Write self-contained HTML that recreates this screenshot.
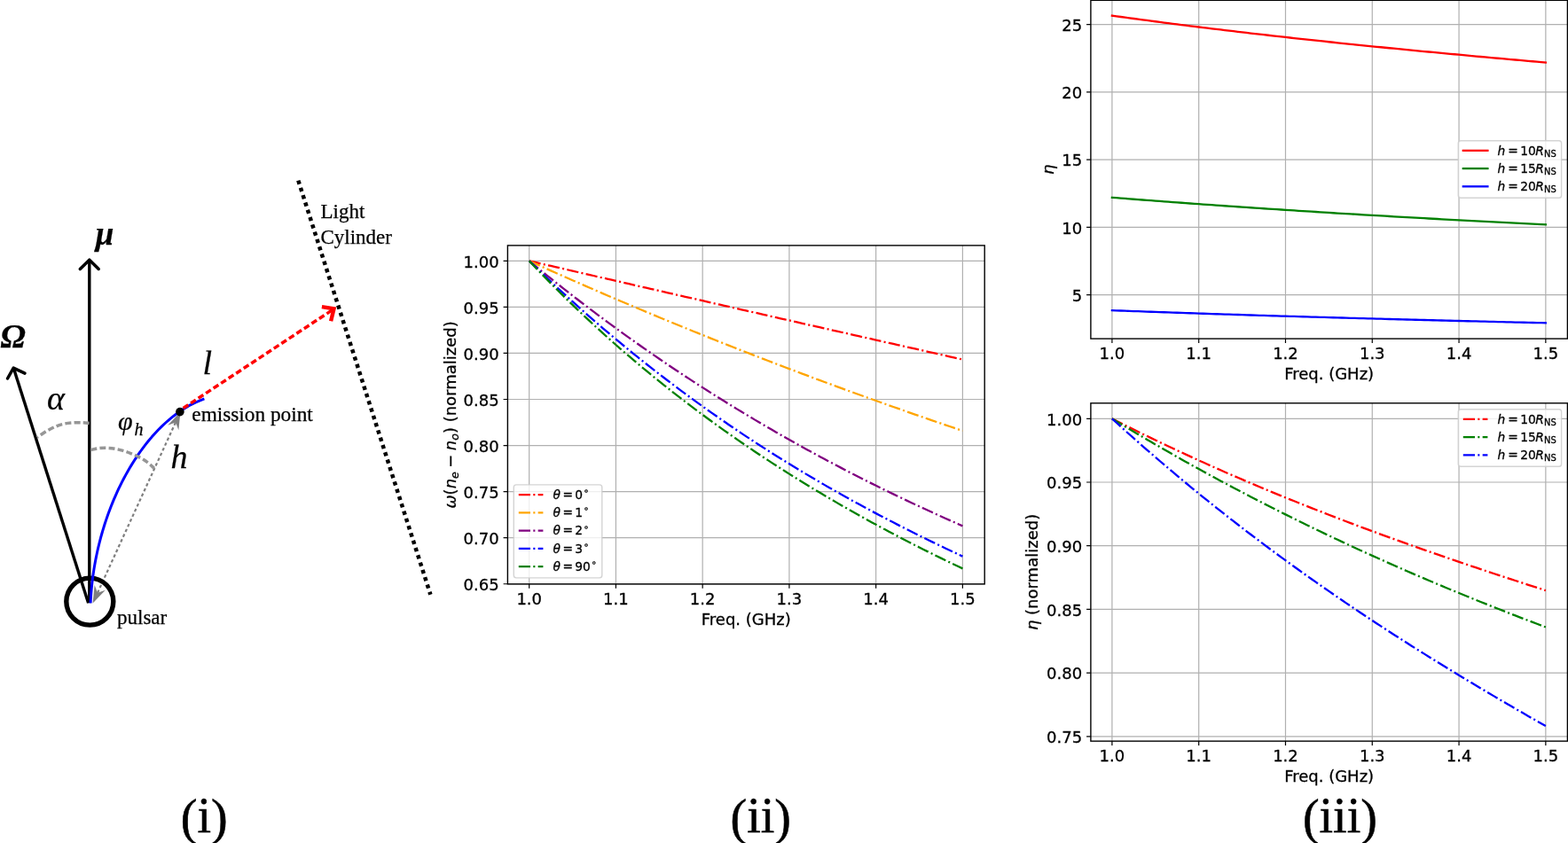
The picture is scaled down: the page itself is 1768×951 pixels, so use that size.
<!DOCTYPE html>
<html lang="en"><head><meta charset="utf-8"><title>Pulsar emission geometry and birefringence plots</title>
<style>
html,body{margin:0;padding:0;background:#fff;}
body{width:1768px;height:951px;overflow:hidden;}
svg{display:block;}
text{white-space:pre;}
</style></head>
<body>
<svg width="1768" height="951" viewBox="0 0 1768 951">
<rect width="1768" height="951" fill="#fff"/>
<clipPath id="c2"><rect x="572.40" y="276.90" width="537.80" height="382.00"/></clipPath>
<path d="M596.70 276.90V658.90M694.44 276.90V658.90M792.18 276.90V658.90M889.92 276.90V658.90M987.66 276.90V658.90M1085.40 276.90V658.90M572.40 658.75H1110.20M572.40 606.69H1110.20M572.40 554.64H1110.20M572.40 502.58H1110.20M572.40 450.52H1110.20M572.40 398.46H1110.20M572.40 346.41H1110.20M572.40 294.35H1110.20" stroke="#b0b0b0" stroke-width="1.2" fill="none"/>
<polyline points="596.70,294.35 601.59,295.48 606.47,296.61 611.36,297.74 616.25,298.86 621.13,299.99 626.02,301.12 630.91,302.24 635.80,303.37 640.68,304.50 645.57,305.62 650.46,306.75 655.34,307.87 660.23,309.00 665.12,310.12 670.01,311.25 674.89,312.37 679.78,313.49 684.67,314.62 689.55,315.74 694.44,316.86 699.33,317.98 704.21,319.10 709.10,320.23 713.99,321.35 718.88,322.47 723.76,323.59 728.65,324.71 733.54,325.83 738.42,326.95 743.31,328.06 748.20,329.18 753.08,330.30 757.97,331.42 762.86,332.54 767.75,333.65 772.63,334.77 777.52,335.89 782.41,337.00 787.29,338.12 792.18,339.24 797.07,340.35 801.95,341.47 806.84,342.58 811.73,343.69 816.62,344.81 821.50,345.92 826.39,347.03 831.28,348.15 836.16,349.26 841.05,350.37 845.94,351.48 850.82,352.60 855.71,353.71 860.60,354.82 865.48,355.93 870.37,357.04 875.26,358.15 880.15,359.26 885.03,360.37 889.92,361.48 894.81,362.58 899.69,363.69 904.58,364.80 909.47,365.91 914.36,367.01 919.24,368.12 924.13,369.23 929.02,370.33 933.90,371.44 938.79,372.54 943.68,373.65 948.56,374.75 953.45,375.86 958.34,376.96 963.23,378.07 968.11,379.17 973.00,380.27 977.89,381.38 982.77,382.48 987.66,383.58 992.55,384.68 997.43,385.78 1002.32,386.88 1007.21,387.98 1012.10,389.08 1016.98,390.18 1021.87,391.28 1026.76,392.38 1031.64,393.48 1036.53,394.58 1041.42,395.68 1046.30,396.78 1051.19,397.88 1056.08,398.97 1060.97,400.07 1065.85,401.17 1070.74,402.26 1075.63,403.36 1080.51,404.45 1085.40,405.55" fill="none" stroke="#ff0000" stroke-width="2.3" stroke-dasharray="13.2 3.3 2.07 3.3" stroke-linejoin="round" clip-path="url(#c2)"/>
<polyline points="596.70,294.35 601.59,296.56 606.47,298.77 611.36,300.97 616.25,303.16 621.13,305.35 626.02,307.53 630.91,309.71 635.80,311.87 640.68,314.04 645.57,316.19 650.46,318.34 655.34,320.48 660.23,322.62 665.12,324.74 670.01,326.87 674.89,328.98 679.78,331.09 684.67,333.20 689.55,335.29 694.44,337.38 699.33,339.47 704.21,341.55 709.10,343.62 713.99,345.69 718.88,347.75 723.76,349.80 728.65,351.85 733.54,353.89 738.42,355.92 743.31,357.95 748.20,359.97 753.08,361.99 757.97,364.00 762.86,366.01 767.75,368.01 772.63,370.00 777.52,371.99 782.41,373.97 787.29,375.94 792.18,377.91 797.07,379.87 801.95,381.83 806.84,383.78 811.73,385.73 816.62,387.67 821.50,389.60 826.39,391.53 831.28,393.45 836.16,395.37 841.05,397.28 845.94,399.18 850.82,401.08 855.71,402.98 860.60,404.87 865.48,406.75 870.37,408.62 875.26,410.50 880.15,412.36 885.03,414.22 889.92,416.08 894.81,417.93 899.69,419.77 904.58,421.61 909.47,423.44 914.36,425.27 919.24,427.09 924.13,428.91 929.02,430.72 933.90,432.52 938.79,434.32 943.68,436.12 948.56,437.91 953.45,439.69 958.34,441.47 963.23,443.24 968.11,445.01 973.00,446.78 977.89,448.53 982.77,450.29 987.66,452.04 992.55,453.78 997.43,455.52 1002.32,457.25 1007.21,458.98 1012.10,460.70 1016.98,462.42 1021.87,464.13 1026.76,465.83 1031.64,467.54 1036.53,469.23 1041.42,470.93 1046.30,472.61 1051.19,474.30 1056.08,475.97 1060.97,477.65 1065.85,479.31 1070.74,480.98 1075.63,482.64 1080.51,484.29 1085.40,485.94" fill="none" stroke="#ffa500" stroke-width="2.3" stroke-dasharray="13.2 3.3 2.07 3.3" stroke-linejoin="round" clip-path="url(#c2)"/>
<polyline points="596.70,294.35 601.59,298.37 606.47,302.37 611.36,306.34 616.25,310.29 621.13,314.21 626.02,318.11 630.91,321.99 635.80,325.84 640.68,329.67 645.57,333.47 650.46,337.25 655.34,341.01 660.23,344.74 665.12,348.46 670.01,352.14 674.89,355.81 679.78,359.45 684.67,363.07 689.55,366.66 694.44,370.24 699.33,373.79 704.21,377.32 709.10,380.82 713.99,384.31 718.88,387.77 723.76,391.21 728.65,394.63 733.54,398.03 738.42,401.40 743.31,404.76 748.20,408.09 753.08,411.40 757.97,414.69 762.86,417.96 767.75,421.21 772.63,424.44 777.52,427.65 782.41,430.84 787.29,434.01 792.18,437.15 797.07,440.28 801.95,443.39 806.84,446.47 811.73,449.54 816.62,452.59 821.50,455.62 826.39,458.63 831.28,461.61 836.16,464.58 841.05,467.54 845.94,470.47 850.82,473.38 855.71,476.28 860.60,479.15 865.48,482.01 870.37,484.85 875.26,487.67 880.15,490.47 885.03,493.26 889.92,496.02 894.81,498.77 899.69,501.50 904.58,504.22 909.47,506.92 914.36,509.59 919.24,512.26 924.13,514.90 929.02,517.53 933.90,520.14 938.79,522.73 943.68,525.31 948.56,527.87 953.45,530.42 958.34,532.95 963.23,535.46 968.11,537.95 973.00,540.43 977.89,542.90 982.77,545.35 987.66,547.78 992.55,550.20 997.43,552.60 1002.32,554.99 1007.21,557.36 1012.10,559.72 1016.98,562.06 1021.87,564.39 1026.76,566.70 1031.64,569.00 1036.53,571.28 1041.42,573.55 1046.30,575.80 1051.19,578.05 1056.08,580.27 1060.97,582.49 1065.85,584.69 1070.74,586.87 1075.63,589.04 1080.51,591.20 1085.40,593.35" fill="none" stroke="#800080" stroke-width="2.3" stroke-dasharray="13.2 3.3 2.07 3.3" stroke-linejoin="round" clip-path="url(#c2)"/>
<polyline points="596.70,294.35 601.59,299.09 606.47,303.80 611.36,308.47 616.25,313.11 621.13,317.71 626.02,322.27 630.91,326.81 635.80,331.30 640.68,335.77 645.57,340.20 650.46,344.59 655.34,348.95 660.23,353.28 665.12,357.58 670.01,361.84 674.89,366.07 679.78,370.27 684.67,374.44 689.55,378.57 694.44,382.67 699.33,386.74 704.21,390.78 709.10,394.79 713.99,398.77 718.88,402.72 723.76,406.63 728.65,410.52 733.54,414.38 738.42,418.20 743.31,422.00 748.20,425.77 753.08,429.51 757.97,433.22 762.86,436.90 767.75,440.55 772.63,444.18 777.52,447.78 782.41,451.34 787.29,454.89 792.18,458.40 797.07,461.89 801.95,465.35 806.84,468.78 811.73,472.19 816.62,475.57 821.50,478.93 826.39,482.26 831.28,485.56 836.16,488.84 841.05,492.09 845.94,495.32 850.82,498.53 855.71,501.70 860.60,504.86 865.48,507.99 870.37,511.10 875.26,514.18 880.15,517.24 885.03,520.28 889.92,523.30 894.81,526.29 899.69,529.26 904.58,532.21 909.47,535.13 914.36,538.03 919.24,540.92 924.13,543.78 929.02,546.62 933.90,549.43 938.79,552.23 943.68,555.01 948.56,557.77 953.45,560.50 958.34,563.22 963.23,565.92 968.11,568.60 973.00,571.26 977.89,573.90 982.77,576.52 987.66,579.12 992.55,581.70 997.43,584.27 1002.32,586.82 1007.21,589.35 1012.10,591.87 1016.98,594.36 1021.87,596.84 1026.76,599.30 1031.64,601.75 1036.53,604.18 1041.42,606.59 1046.30,608.99 1051.19,611.38 1056.08,613.74 1060.97,616.09 1065.85,618.43 1070.74,620.75 1075.63,623.06 1080.51,625.35 1085.40,627.63" fill="none" stroke="#0000ff" stroke-width="2.3" stroke-dasharray="13.2 3.3 2.07 3.3" stroke-linejoin="round" clip-path="url(#c2)"/>
<polyline points="596.70,294.35 601.59,299.53 606.47,304.66 611.36,309.74 616.25,314.76 621.13,319.74 626.02,324.67 630.91,329.56 635.80,334.39 640.68,339.18 645.57,343.93 650.46,348.63 655.34,353.28 660.23,357.89 665.12,362.46 670.01,366.99 674.89,371.47 679.78,375.91 684.67,380.32 689.55,384.68 694.44,389.00 699.33,393.28 704.21,397.53 709.10,401.73 713.99,405.90 718.88,410.03 723.76,414.13 728.65,418.19 733.54,422.21 738.42,426.20 743.31,430.15 748.20,434.07 753.08,437.96 757.97,441.81 762.86,445.63 767.75,449.41 772.63,453.17 777.52,456.89 782.41,460.58 787.29,464.24 792.18,467.87 797.07,471.47 801.95,475.04 806.84,478.59 811.73,482.10 816.62,485.58 821.50,489.04 826.39,492.46 831.28,495.86 836.16,499.23 841.05,502.58 845.94,505.90 850.82,509.19 855.71,512.46 860.60,515.70 865.48,518.91 870.37,522.10 875.26,525.26 880.15,528.41 885.03,531.52 889.92,534.61 894.81,537.68 899.69,540.73 904.58,543.75 909.47,546.75 914.36,549.72 919.24,552.68 924.13,555.61 929.02,558.52 933.90,561.41 938.79,564.28 943.68,567.12 948.56,569.95 953.45,572.75 958.34,575.53 963.23,578.30 968.11,581.04 973.00,583.77 977.89,586.47 982.77,589.15 987.66,591.82 992.55,594.47 997.43,597.09 1002.32,599.70 1007.21,602.29 1012.10,604.87 1016.98,607.42 1021.87,609.96 1026.76,612.48 1031.64,614.98 1036.53,617.46 1041.42,619.93 1046.30,622.38 1051.19,624.82 1056.08,627.23 1060.97,629.63 1065.85,632.02 1070.74,634.39 1075.63,636.74 1080.51,639.08 1085.40,641.40" fill="none" stroke="#008000" stroke-width="2.3" stroke-dasharray="13.2 3.3 2.07 3.3" stroke-linejoin="round" clip-path="url(#c2)"/>
<path d="M596.70 658.90v4.8M694.44 658.90v4.8M792.18 658.90v4.8M889.92 658.90v4.8M987.66 658.90v4.8M1085.40 658.90v4.8M572.40 658.75h-4.8M572.40 606.69h-4.8M572.40 554.64h-4.8M572.40 502.58h-4.8M572.40 450.52h-4.8M572.40 398.46h-4.8M572.40 346.41h-4.8M572.40 294.35h-4.8" stroke="#000" stroke-width="1.2" fill="none"/>
<rect x="572.40" y="276.90" width="537.80" height="382.00" fill="none" stroke="#000" stroke-width="1.4"/>
<g font-family="'DejaVu Sans','Liberation Sans',sans-serif" font-size="18.0" fill="#000" stroke="#000" stroke-width="0.3">
<text x="596.70" y="682.10" text-anchor="middle">1.0</text>
<text x="694.44" y="682.10" text-anchor="middle">1.1</text>
<text x="792.18" y="682.10" text-anchor="middle">1.2</text>
<text x="889.92" y="682.10" text-anchor="middle">1.3</text>
<text x="987.66" y="682.10" text-anchor="middle">1.4</text>
<text x="1085.40" y="682.10" text-anchor="middle">1.5</text>
<text x="562.70" y="666.05" text-anchor="end">0.65</text>
<text x="562.70" y="613.99" text-anchor="end">0.70</text>
<text x="562.70" y="561.94" text-anchor="end">0.75</text>
<text x="562.70" y="509.88" text-anchor="end">0.80</text>
<text x="562.70" y="457.82" text-anchor="end">0.85</text>
<text x="562.70" y="405.76" text-anchor="end">0.90</text>
<text x="562.70" y="353.71" text-anchor="end">0.95</text>
<text x="562.70" y="301.65" text-anchor="end">1.00</text>
<text x="841.30" y="704.50" text-anchor="middle">Freq. (GHz)</text>
<text transform="translate(514.20 467.90) rotate(-90)" text-anchor="middle"><tspan font-style="italic">&#969;</tspan>(<tspan font-style="italic">n</tspan><tspan dy="3.0" font-size="70%" font-style="italic">e</tspan><tspan dy="-3.0" dx="-1.3"> &#8722;</tspan><tspan dx="-1.3"> </tspan><tspan font-style="italic">n</tspan><tspan dy="3.0" font-size="70%" font-style="italic">o</tspan><tspan dy="-3.0">) (normalized)</tspan></text>
</g>
<rect x="579.30" y="546.90" width="99.50" height="105.00" rx="2.8" ry="2.8" fill="#fff" fill-opacity="0.8" stroke="#ccc" stroke-opacity="0.85" stroke-width="1.4"/>
<g font-family="'DejaVu Sans','Liberation Sans',sans-serif" font-size="13.8" fill="#000" stroke="#000" stroke-width="0.3">
<path d="M584.80 558.05h27.6" stroke="#ff0000" stroke-width="2.3" stroke-dasharray="13.2 3.3 2.07 3.3" fill="none"/>
<text x="623.40" y="562.85"><tspan font-style="italic">&#952;</tspan><tspan dx="-1.8"> =</tspan><tspan dx="-2.1"> 0</tspan><tspan dx="0.9"><tspan dy="-5.8" font-size="70%">&#8728;</tspan></tspan></text>
<path d="M584.80 578.30h27.6" stroke="#ffa500" stroke-width="2.3" stroke-dasharray="13.2 3.3 2.07 3.3" fill="none"/>
<text x="623.40" y="583.10"><tspan font-style="italic">&#952;</tspan><tspan dx="-1.8"> =</tspan><tspan dx="-2.1"> 1</tspan><tspan dx="0.9"><tspan dy="-5.8" font-size="70%">&#8728;</tspan></tspan></text>
<path d="M584.80 598.55h27.6" stroke="#800080" stroke-width="2.3" stroke-dasharray="13.2 3.3 2.07 3.3" fill="none"/>
<text x="623.40" y="603.35"><tspan font-style="italic">&#952;</tspan><tspan dx="-1.8"> =</tspan><tspan dx="-2.1"> 2</tspan><tspan dx="0.9"><tspan dy="-5.8" font-size="70%">&#8728;</tspan></tspan></text>
<path d="M584.80 618.80h27.6" stroke="#0000ff" stroke-width="2.3" stroke-dasharray="13.2 3.3 2.07 3.3" fill="none"/>
<text x="623.40" y="623.60"><tspan font-style="italic">&#952;</tspan><tspan dx="-1.8"> =</tspan><tspan dx="-2.1"> 3</tspan><tspan dx="0.9"><tspan dy="-5.8" font-size="70%">&#8728;</tspan></tspan></text>
<path d="M584.80 639.05h27.6" stroke="#008000" stroke-width="2.3" stroke-dasharray="13.2 3.3 2.07 3.3" fill="none"/>
<text x="623.40" y="643.85"><tspan font-style="italic">&#952;</tspan><tspan dx="-1.8"> =</tspan><tspan dx="-2.1"> 90</tspan><tspan dx="0.9"><tspan dy="-5.8" font-size="70%">&#8728;</tspan></tspan></text>
</g>
<clipPath id="c3b"><rect x="1229.90" y="454.80" width="537.50" height="381.30"/></clipPath>
<path d="M1253.90 454.80V836.10M1351.69 454.80V836.10M1449.48 454.80V836.10M1547.27 454.80V836.10M1645.06 454.80V836.10M1742.85 454.80V836.10M1229.90 830.80H1767.40M1229.90 759.10H1767.40M1229.90 687.40H1767.40M1229.90 615.70H1767.40M1229.90 544.00H1767.40M1229.90 472.30H1767.40" stroke="#b0b0b0" stroke-width="1.2" fill="none"/>
<polyline points="1253.90,472.30 1258.79,474.78 1263.68,477.26 1268.57,479.71 1273.46,482.15 1278.35,484.58 1283.24,486.99 1288.13,489.39 1293.02,491.77 1297.91,494.15 1302.80,496.50 1307.68,498.85 1312.57,501.18 1317.46,503.49 1322.35,505.79 1327.24,508.08 1332.13,510.36 1337.02,512.62 1341.91,514.87 1346.80,517.11 1351.69,519.34 1356.58,521.55 1361.47,523.75 1366.36,525.94 1371.25,528.11 1376.14,530.28 1381.03,532.43 1385.92,534.57 1390.81,536.69 1395.70,538.81 1400.59,540.91 1405.47,543.01 1410.36,545.09 1415.25,547.16 1420.14,549.22 1425.03,551.27 1429.92,553.30 1434.81,555.33 1439.70,557.35 1444.59,559.35 1449.48,561.35 1454.37,563.33 1459.26,565.30 1464.15,567.27 1469.04,569.22 1473.93,571.17 1478.82,573.10 1483.71,575.03 1488.60,576.94 1493.49,578.85 1498.38,580.74 1503.26,582.63 1508.15,584.51 1513.04,586.38 1517.93,588.24 1522.82,590.09 1527.71,591.93 1532.60,593.76 1537.49,595.59 1542.38,597.41 1547.27,599.22 1552.16,601.02 1557.05,602.81 1561.94,604.59 1566.83,606.37 1571.72,608.14 1576.61,609.90 1581.50,611.66 1586.39,613.40 1591.28,615.14 1596.16,616.88 1601.05,618.60 1605.94,620.32 1610.83,622.03 1615.72,623.74 1620.61,625.44 1625.50,627.13 1630.39,628.81 1635.28,630.49 1640.17,632.17 1645.06,633.84 1649.95,635.50 1654.84,637.15 1659.73,638.80 1664.62,640.45 1669.51,642.09 1674.40,643.72 1679.29,645.35 1684.18,646.97 1689.07,648.59 1693.95,650.20 1698.84,651.81 1703.73,653.42 1708.62,655.02 1713.51,656.61 1718.40,658.20 1723.29,659.79 1728.18,661.37 1733.07,662.95 1737.96,664.52 1742.85,666.09" fill="none" stroke="#ff0000" stroke-width="2.3" stroke-dasharray="13.2 3.3 2.07 3.3" stroke-linejoin="round" clip-path="url(#c3b)"/>
<polyline points="1253.90,472.30 1258.79,475.28 1263.68,478.24 1268.57,481.18 1273.46,484.12 1278.35,487.03 1283.24,489.94 1288.13,492.82 1293.02,495.70 1297.91,498.56 1302.80,501.40 1307.68,504.23 1312.57,507.05 1317.46,509.85 1322.35,512.63 1327.24,515.41 1332.13,518.17 1337.02,520.91 1341.91,523.64 1346.80,526.36 1351.69,529.07 1356.58,531.76 1361.47,534.43 1366.36,537.10 1371.25,539.75 1376.14,542.39 1381.03,545.01 1385.92,547.62 1390.81,550.22 1395.70,552.80 1400.59,555.37 1405.47,557.93 1410.36,560.48 1415.25,563.01 1420.14,565.53 1425.03,568.04 1429.92,570.53 1434.81,573.02 1439.70,575.49 1444.59,577.94 1449.48,580.39 1454.37,582.82 1459.26,585.24 1464.15,587.65 1469.04,590.05 1473.93,592.44 1478.82,594.81 1483.71,597.17 1488.60,599.52 1493.49,601.86 1498.38,604.19 1503.26,606.51 1508.15,608.81 1513.04,611.11 1517.93,613.39 1522.82,615.66 1527.71,617.92 1532.60,620.17 1537.49,622.41 1542.38,624.63 1547.27,626.85 1552.16,629.05 1557.05,631.25 1561.94,633.43 1566.83,635.61 1571.72,637.77 1576.61,639.93 1581.50,642.07 1586.39,644.20 1591.28,646.32 1596.16,648.44 1601.05,650.54 1605.94,652.63 1610.83,654.72 1615.72,656.79 1620.61,658.85 1625.50,660.91 1630.39,662.95 1635.28,664.98 1640.17,667.01 1645.06,669.03 1649.95,671.03 1654.84,673.03 1659.73,675.02 1664.62,677.00 1669.51,678.97 1674.40,680.93 1679.29,682.88 1684.18,684.83 1689.07,686.76 1693.95,688.69 1698.84,690.61 1703.73,692.52 1708.62,694.42 1713.51,696.31 1718.40,698.20 1723.29,700.07 1728.18,701.94 1733.07,703.80 1737.96,705.66 1742.85,707.50" fill="none" stroke="#008000" stroke-width="2.3" stroke-dasharray="13.2 3.3 2.07 3.3" stroke-linejoin="round" clip-path="url(#c3b)"/>
<polyline points="1253.90,472.30 1258.79,476.77 1263.68,481.21 1268.57,485.62 1273.46,490.01 1278.35,494.37 1283.24,498.71 1288.13,503.02 1293.02,507.30 1297.91,511.56 1302.80,515.79 1307.68,520.00 1312.57,524.19 1317.46,528.35 1322.35,532.49 1327.24,536.60 1332.13,540.69 1337.02,544.75 1341.91,548.79 1346.80,552.81 1351.69,556.81 1356.58,560.78 1361.47,564.73 1366.36,568.66 1371.25,572.56 1376.14,576.44 1381.03,580.31 1385.92,584.15 1390.81,587.96 1395.70,591.76 1400.59,595.54 1405.47,599.29 1410.36,603.02 1415.25,606.74 1420.14,610.43 1425.03,614.10 1429.92,617.76 1434.81,621.39 1439.70,625.00 1444.59,628.60 1449.48,632.17 1454.37,635.73 1459.26,639.27 1464.15,642.79 1469.04,646.29 1473.93,649.77 1478.82,653.24 1483.71,656.68 1488.60,660.11 1493.49,663.52 1498.38,666.92 1503.26,670.30 1508.15,673.66 1513.04,677.00 1517.93,680.33 1522.82,683.64 1527.71,686.94 1532.60,690.22 1537.49,693.48 1542.38,696.73 1547.27,699.96 1552.16,703.18 1557.05,706.39 1561.94,709.58 1566.83,712.75 1571.72,715.91 1576.61,719.06 1581.50,722.19 1586.39,725.31 1591.28,728.42 1596.16,731.51 1601.05,734.59 1605.94,737.65 1610.83,740.71 1615.72,743.75 1620.61,746.78 1625.50,749.79 1630.39,752.80 1635.28,755.79 1640.17,758.77 1645.06,761.74 1649.95,764.70 1654.84,767.65 1659.73,770.59 1664.62,773.52 1669.51,776.43 1674.40,779.34 1679.29,782.24 1684.18,785.12 1689.07,788.00 1693.95,790.87 1698.84,793.73 1703.73,796.58 1708.62,799.42 1713.51,802.25 1718.40,805.08 1723.29,807.89 1728.18,810.70 1733.07,813.50 1737.96,816.29 1742.85,819.08" fill="none" stroke="#0000ff" stroke-width="2.3" stroke-dasharray="13.2 3.3 2.07 3.3" stroke-linejoin="round" clip-path="url(#c3b)"/>
<path d="M1253.90 836.10v4.8M1351.69 836.10v4.8M1449.48 836.10v4.8M1547.27 836.10v4.8M1645.06 836.10v4.8M1742.85 836.10v4.8M1229.90 830.80h-4.8M1229.90 759.10h-4.8M1229.90 687.40h-4.8M1229.90 615.70h-4.8M1229.90 544.00h-4.8M1229.90 472.30h-4.8" stroke="#000" stroke-width="1.2" fill="none"/>
<rect x="1229.90" y="454.80" width="537.50" height="381.30" fill="none" stroke="#000" stroke-width="1.4"/>
<g font-family="'DejaVu Sans','Liberation Sans',sans-serif" font-size="18.0" fill="#000" stroke="#000" stroke-width="0.3">
<text x="1253.90" y="859.30" text-anchor="middle">1.0</text>
<text x="1351.69" y="859.30" text-anchor="middle">1.1</text>
<text x="1449.48" y="859.30" text-anchor="middle">1.2</text>
<text x="1547.27" y="859.30" text-anchor="middle">1.3</text>
<text x="1645.06" y="859.30" text-anchor="middle">1.4</text>
<text x="1742.85" y="859.30" text-anchor="middle">1.5</text>
<text x="1220.20" y="838.10" text-anchor="end">0.75</text>
<text x="1220.20" y="766.40" text-anchor="end">0.80</text>
<text x="1220.20" y="694.70" text-anchor="end">0.85</text>
<text x="1220.20" y="623.00" text-anchor="end">0.90</text>
<text x="1220.20" y="551.30" text-anchor="end">0.95</text>
<text x="1220.20" y="479.60" text-anchor="end">1.00</text>
<text x="1498.65" y="881.70" text-anchor="middle">Freq. (GHz)</text>
<text transform="translate(1170.30 645.45) rotate(-90)" text-anchor="middle"><tspan font-style="italic">&#951;</tspan> (normalized)</text>
</g>
<rect x="1644.30" y="461.70" width="116.30" height="64.60" rx="2.8" ry="2.8" fill="#fff" fill-opacity="0.8" stroke="#ccc" stroke-opacity="0.85" stroke-width="1.4"/>
<g font-family="'DejaVu Sans','Liberation Sans',sans-serif" font-size="13.8" fill="#000" stroke="#000" stroke-width="0.3">
<path d="M1649.80 472.85h27.6" stroke="#ff0000" stroke-width="2.3" stroke-dasharray="13.2 3.3 2.07 3.3" fill="none"/>
<text x="1688.40" y="477.65"><tspan font-style="italic">h</tspan><tspan dx="-1.4"> =</tspan><tspan dx="-1.9"> 10</tspan><tspan dx="-0.5" font-style="italic">R</tspan><tspan dx="0.2"><tspan dy="2.2" font-size="72%">NS</tspan></tspan></text>
<path d="M1649.80 493.10h27.6" stroke="#008000" stroke-width="2.3" stroke-dasharray="13.2 3.3 2.07 3.3" fill="none"/>
<text x="1688.40" y="497.90"><tspan font-style="italic">h</tspan><tspan dx="-1.4"> =</tspan><tspan dx="-1.9"> 15</tspan><tspan dx="-0.5" font-style="italic">R</tspan><tspan dx="0.2"><tspan dy="2.2" font-size="72%">NS</tspan></tspan></text>
<path d="M1649.80 513.35h27.6" stroke="#0000ff" stroke-width="2.3" stroke-dasharray="13.2 3.3 2.07 3.3" fill="none"/>
<text x="1688.40" y="518.15"><tspan font-style="italic">h</tspan><tspan dx="-1.4"> =</tspan><tspan dx="-1.9"> 20</tspan><tspan dx="-0.5" font-style="italic">R</tspan><tspan dx="0.2"><tspan dy="2.2" font-size="72%">NS</tspan></tspan></text>
</g>
<clipPath id="c3a"><rect x="1229.90" y="0.30" width="537.50" height="381.80"/></clipPath>
<path d="M1253.90 0.30V382.10M1351.69 0.30V382.10M1449.48 0.30V382.10M1547.27 0.30V382.10M1645.06 0.30V382.10M1742.85 0.30V382.10M1229.90 332.60H1767.40M1229.90 256.36H1767.40M1229.90 180.12H1767.40M1229.90 103.89H1767.40M1229.90 27.65H1767.40" stroke="#b0b0b0" stroke-width="1.2" fill="none"/>
<polyline points="1253.90,17.66 1258.79,18.34 1263.68,19.01 1268.57,19.68 1273.46,20.35 1278.35,21.01 1283.24,21.67 1288.13,22.32 1293.02,22.98 1297.91,23.62 1302.80,24.26 1307.68,24.90 1312.57,25.54 1317.46,26.17 1322.35,26.80 1327.24,27.42 1332.13,28.05 1337.02,28.66 1341.91,29.28 1346.80,29.89 1351.69,30.49 1356.58,31.10 1361.47,31.70 1366.36,32.29 1371.25,32.89 1376.14,33.48 1381.03,34.06 1385.92,34.65 1390.81,35.23 1395.70,35.81 1400.59,36.38 1405.47,36.95 1410.36,37.52 1415.25,38.08 1420.14,38.65 1425.03,39.20 1429.92,39.76 1434.81,40.31 1439.70,40.86 1444.59,41.41 1449.48,41.95 1454.37,42.49 1459.26,43.03 1464.15,43.57 1469.04,44.10 1473.93,44.63 1478.82,45.16 1483.71,45.69 1488.60,46.21 1493.49,46.73 1498.38,47.24 1503.26,47.76 1508.15,48.27 1513.04,48.78 1517.93,49.29 1522.82,49.79 1527.71,50.30 1532.60,50.80 1537.49,51.29 1542.38,51.79 1547.27,52.28 1552.16,52.78 1557.05,53.26 1561.94,53.75 1566.83,54.24 1571.72,54.72 1576.61,55.20 1581.50,55.68 1586.39,56.15 1591.28,56.63 1596.16,57.10 1601.05,57.57 1605.94,58.04 1610.83,58.51 1615.72,58.97 1620.61,59.44 1625.50,59.90 1630.39,60.36 1635.28,60.82 1640.17,61.27 1645.06,61.73 1649.95,62.18 1654.84,62.63 1659.73,63.08 1664.62,63.53 1669.51,63.98 1674.40,64.42 1679.29,64.87 1684.18,65.31 1689.07,65.75 1693.95,66.19 1698.84,66.63 1703.73,67.07 1708.62,67.51 1713.51,67.94 1718.40,68.37 1723.29,68.81 1728.18,69.24 1733.07,69.67 1737.96,70.10 1742.85,70.53" fill="none" stroke="#ff0000" stroke-width="2.3" stroke-linecap="square" stroke-linejoin="round" clip-path="url(#c3a)"/>
<polyline points="1253.90,222.82 1258.79,223.20 1263.68,223.59 1268.57,223.97 1273.46,224.35 1278.35,224.73 1283.24,225.11 1288.13,225.48 1293.02,225.85 1297.91,226.22 1302.80,226.59 1307.68,226.96 1312.57,227.33 1317.46,227.69 1322.35,228.05 1327.24,228.41 1332.13,228.77 1337.02,229.12 1341.91,229.48 1346.80,229.83 1351.69,230.18 1356.58,230.53 1361.47,230.88 1366.36,231.22 1371.25,231.57 1376.14,231.91 1381.03,232.25 1385.92,232.59 1390.81,232.93 1395.70,233.26 1400.59,233.59 1405.47,233.93 1410.36,234.26 1415.25,234.58 1420.14,234.91 1425.03,235.24 1429.92,235.56 1434.81,235.88 1439.70,236.20 1444.59,236.52 1449.48,236.84 1454.37,237.16 1459.26,237.47 1464.15,237.78 1469.04,238.09 1473.93,238.40 1478.82,238.71 1483.71,239.02 1488.60,239.32 1493.49,239.63 1498.38,239.93 1503.26,240.23 1508.15,240.53 1513.04,240.82 1517.93,241.12 1522.82,241.41 1527.71,241.71 1532.60,242.00 1537.49,242.29 1542.38,242.58 1547.27,242.87 1552.16,243.15 1557.05,243.44 1561.94,243.72 1566.83,244.00 1571.72,244.28 1576.61,244.56 1581.50,244.84 1586.39,245.12 1591.28,245.39 1596.16,245.67 1601.05,245.94 1605.94,246.21 1610.83,246.48 1615.72,246.75 1620.61,247.02 1625.50,247.28 1630.39,247.55 1635.28,247.81 1640.17,248.08 1645.06,248.34 1649.95,248.60 1654.84,248.86 1659.73,249.11 1664.62,249.37 1669.51,249.63 1674.40,249.88 1679.29,250.14 1684.18,250.39 1689.07,250.64 1693.95,250.89 1698.84,251.14 1703.73,251.38 1708.62,251.63 1713.51,251.88 1718.40,252.12 1723.29,252.37 1728.18,252.61 1733.07,252.85 1737.96,253.09 1742.85,253.33" fill="none" stroke="#008000" stroke-width="2.3" stroke-linecap="square" stroke-linejoin="round" clip-path="url(#c3a)"/>
<polyline points="1253.90,350.13 1258.79,350.32 1263.68,350.50 1268.57,350.68 1273.46,350.86 1278.35,351.04 1283.24,351.22 1288.13,351.39 1293.02,351.57 1297.91,351.74 1302.80,351.92 1307.68,352.09 1312.57,352.26 1317.46,352.43 1322.35,352.60 1327.24,352.77 1332.13,352.93 1337.02,353.10 1341.91,353.27 1346.80,353.43 1351.69,353.59 1356.58,353.76 1361.47,353.92 1366.36,354.08 1371.25,354.24 1376.14,354.40 1381.03,354.56 1385.92,354.71 1390.81,354.87 1395.70,355.02 1400.59,355.18 1405.47,355.33 1410.36,355.49 1415.25,355.64 1420.14,355.79 1425.03,355.94 1429.92,356.09 1434.81,356.24 1439.70,356.39 1444.59,356.53 1449.48,356.68 1454.37,356.82 1459.26,356.97 1464.15,357.11 1469.04,357.26 1473.93,357.40 1478.82,357.54 1483.71,357.68 1488.60,357.82 1493.49,357.96 1498.38,358.10 1503.26,358.24 1508.15,358.38 1513.04,358.51 1517.93,358.65 1522.82,358.79 1527.71,358.92 1532.60,359.06 1537.49,359.19 1542.38,359.32 1547.27,359.45 1552.16,359.59 1557.05,359.72 1561.94,359.85 1566.83,359.98 1571.72,360.11 1576.61,360.24 1581.50,360.36 1586.39,360.49 1591.28,360.62 1596.16,360.75 1601.05,360.87 1605.94,361.00 1610.83,361.12 1615.72,361.25 1620.61,361.37 1625.50,361.49 1630.39,361.62 1635.28,361.74 1640.17,361.86 1645.06,361.98 1649.95,362.10 1654.84,362.23 1659.73,362.35 1664.62,362.47 1669.51,362.58 1674.40,362.70 1679.29,362.82 1684.18,362.94 1689.07,363.06 1693.95,363.18 1698.84,363.29 1703.73,363.41 1708.62,363.53 1713.51,363.64 1718.40,363.76 1723.29,363.87 1728.18,363.99 1733.07,364.10 1737.96,364.22 1742.85,364.33" fill="none" stroke="#0000ff" stroke-width="2.3" stroke-linecap="square" stroke-linejoin="round" clip-path="url(#c3a)"/>
<path d="M1253.90 382.10v4.8M1351.69 382.10v4.8M1449.48 382.10v4.8M1547.27 382.10v4.8M1645.06 382.10v4.8M1742.85 382.10v4.8M1229.90 332.60h-4.8M1229.90 256.36h-4.8M1229.90 180.12h-4.8M1229.90 103.89h-4.8M1229.90 27.65h-4.8" stroke="#000" stroke-width="1.2" fill="none"/>
<rect x="1229.90" y="0.30" width="537.50" height="381.80" fill="none" stroke="#000" stroke-width="1.4"/>
<g font-family="'DejaVu Sans','Liberation Sans',sans-serif" font-size="18.0" fill="#000" stroke="#000" stroke-width="0.3">
<text x="1253.90" y="405.30" text-anchor="middle">1.0</text>
<text x="1351.69" y="405.30" text-anchor="middle">1.1</text>
<text x="1449.48" y="405.30" text-anchor="middle">1.2</text>
<text x="1547.27" y="405.30" text-anchor="middle">1.3</text>
<text x="1645.06" y="405.30" text-anchor="middle">1.4</text>
<text x="1742.85" y="405.30" text-anchor="middle">1.5</text>
<text x="1220.20" y="339.90" text-anchor="end">5</text>
<text x="1220.20" y="263.66" text-anchor="end">10</text>
<text x="1220.20" y="187.43" text-anchor="end">15</text>
<text x="1220.20" y="111.19" text-anchor="end">20</text>
<text x="1220.20" y="34.95" text-anchor="end">25</text>
<text x="1498.65" y="427.70" text-anchor="middle">Freq. (GHz)</text>
<text transform="translate(1187.90 191.20) rotate(-90)" text-anchor="middle"><tspan font-style="italic">&#951;</tspan></text>
</g>
<rect x="1644.30" y="158.70" width="116.30" height="64.60" rx="2.8" ry="2.8" fill="#fff" fill-opacity="0.8" stroke="#ccc" stroke-opacity="0.85" stroke-width="1.4"/>
<g font-family="'DejaVu Sans','Liberation Sans',sans-serif" font-size="13.8" fill="#000" stroke="#000" stroke-width="0.3">
<path d="M1649.80 169.85h27.6" stroke="#ff0000" stroke-width="2.3" stroke-linecap="square" fill="none"/>
<text x="1688.40" y="174.65"><tspan font-style="italic">h</tspan><tspan dx="-1.4"> =</tspan><tspan dx="-1.9"> 10</tspan><tspan dx="-0.5" font-style="italic">R</tspan><tspan dx="0.2"><tspan dy="2.2" font-size="72%">NS</tspan></tspan></text>
<path d="M1649.80 190.10h27.6" stroke="#008000" stroke-width="2.3" stroke-linecap="square" fill="none"/>
<text x="1688.40" y="194.90"><tspan font-style="italic">h</tspan><tspan dx="-1.4"> =</tspan><tspan dx="-1.9"> 15</tspan><tspan dx="-0.5" font-style="italic">R</tspan><tspan dx="0.2"><tspan dy="2.2" font-size="72%">NS</tspan></tspan></text>
<path d="M1649.80 210.35h27.6" stroke="#0000ff" stroke-width="2.3" stroke-linecap="square" fill="none"/>
<text x="1688.40" y="215.15"><tspan font-style="italic">h</tspan><tspan dx="-1.4"> =</tspan><tspan dx="-1.9"> 20</tspan><tspan dx="-0.5" font-style="italic">R</tspan><tspan dx="0.2"><tspan dy="2.2" font-size="72%">NS</tspan></tspan></text>
</g>
<g fill="none" stroke-linecap="butt">
<path d="M110.01 668.78L197.99 476.52" stroke="#7f7f7f" stroke-width="2.2" stroke-dasharray="3.5 2.8"/>
<path d="M203.40 464.70L201.38 485.22L197.99 476.52L189.19 479.64ZM104.60 680.60L118.81 665.66L110.01 668.78L106.62 660.08Z" fill="#7f7f7f" stroke="none"/>
<circle cx="101.3" cy="678.6" r="26.5" stroke="#000" stroke-width="5.4"/>
<path d="M100.8 680.3V294" stroke="#000" stroke-width="3.4"/>
<path d="M90.3 303.5L100.8 293.2L111.2 303.5" stroke="#000" stroke-width="3.5" stroke-linejoin="round" stroke-linecap="round"/>
<path d="M99.6 680.3L15.4 415.6" stroke="#000" stroke-width="3.4"/>
<path d="M8.5 427.0L15.2 415.1L28.0 421.1" stroke="#000" stroke-width="3.5" stroke-linejoin="round" stroke-linecap="round"/>
<polyline points="102.07,680.40 102.26,676.49 102.49,672.59 102.78,668.68 103.11,664.77 103.49,660.87 103.91,656.96 104.39,653.05 104.90,649.15 105.47,645.24 106.08,641.33 106.74,637.43 107.44,633.52 108.19,629.61 108.99,625.71 109.83,621.80 110.72,617.89 111.66,613.98 112.65,610.08 113.68,606.17 114.77,602.26 115.90,598.36 117.09,594.45 118.32,590.54 119.61,586.64 120.95,582.73 122.35,578.82 123.80,574.92 125.31,571.01 126.88,567.10 128.50,563.20 130.19,559.29 131.94,555.38 133.75,551.48 135.64,547.57 137.59,543.66 139.62,539.76 141.72,535.85 143.90,531.94 146.16,528.04 148.52,524.13 150.96,520.22 153.50,516.32 156.15,512.41 158.91,508.50 161.78,504.59 164.79,500.69 167.94,496.78 171.24,492.87 174.72,488.97 178.38,485.06 182.27,481.15 186.40,477.25 190.82,473.34 195.60,469.43 200.80,465.53 206.56,461.62 213.07,457.71 220.71,453.81 230.36,449.90" stroke="#0000ff" stroke-width="3.0" stroke-linejoin="round"/>
<path d="M100.60 477.50C99.38 477.38 96.02 476.92 93.30 476.80C90.58 476.68 87.62 476.62 84.30 476.80C80.98 476.98 76.87 477.23 73.40 477.90C69.93 478.57 66.97 479.40 63.50 480.80C60.03 482.20 56.22 484.18 52.60 486.30C48.98 488.42 43.60 492.30 41.80 493.50" stroke="#969696" stroke-width="3.5" stroke-dasharray="6.9 3.3"/>
<path d="M102.40 507.50C103.90 507.20 108.38 506.07 111.40 505.70C114.42 505.33 117.48 505.22 120.50 505.30C123.52 505.38 126.48 505.68 129.50 506.20C132.52 506.72 135.58 507.50 138.60 508.40C141.62 509.30 144.58 510.40 147.60 511.60C150.62 512.80 153.68 514.02 156.70 515.60C159.72 517.18 162.83 518.98 165.70 521.10C168.57 523.22 172.53 527.10 173.90 528.30" stroke="#969696" stroke-width="3.5" stroke-dasharray="6.9 3.3"/>
<path d="M203.5 462.5L376.4 348.6" stroke="#ff0000" stroke-width="3.5" stroke-dasharray="6.8 3.4" stroke-dashoffset="6.5"/>
<path d="M362.9 346.2L376.5 348.4L373.1 362.2" stroke="#ff0000" stroke-width="4.4" stroke-linejoin="miter" stroke-miterlimit="10" stroke-linecap="butt"/>
<path d="M336.3 203.6L485.4 670.8" stroke="#000" stroke-width="4.5" stroke-dasharray="4.35 4.35"/>
</g>
<circle cx="202.9" cy="464.6" r="4.8" fill="#000"/>
<g font-family="'Liberation Serif','DejaVu Serif',serif" fill="#000" stroke="#000" stroke-width="0.25">
<text x="361.5" y="246.0" font-size="23">Light</text>
<text x="361.5" y="275.3" font-size="23">Cylinder</text>
<text x="216.3" y="474.8" font-size="23.3">emission point</text>
<text x="132" y="704" font-size="23">pulsar</text>
<text x="107.8" y="275.6" font-size="37" font-style="italic" font-weight="bold">&#956;</text>
<text x="0.5" y="391.8" font-size="38" font-style="italic" font-weight="bold">&#937;</text>
<text x="53" y="462.4" font-size="38" font-style="italic">&#945;</text>
<text x="228.5" y="422.2" font-size="38" font-style="italic">l</text>
<text x="192.5" y="528" font-size="38" font-style="italic">h</text>
<text x="133" y="484.5" font-size="30" font-style="italic">&#966;<tspan dx="1.8" dy="6.3" font-size="20">h</tspan></text>
</g>
<g font-family="'Liberation Serif','DejaVu Serif',serif" font-size="56" fill="#000" stroke="#000" stroke-width="0.6" text-anchor="middle">
<text x="230.2" y="939"><tspan dy="1.6">(</tspan><tspan dy="-1.6">i</tspan><tspan dy="1.6">)</tspan></text><text x="857.7" y="939"><tspan dy="1.6">(</tspan><tspan dy="-1.6">ii</tspan><tspan dy="1.6">)</tspan></text><text x="1510.9" y="939"><tspan dy="1.6">(</tspan><tspan dy="-1.6">iii</tspan><tspan dy="1.6">)</tspan></text>
</g>
</svg>
</body></html>
